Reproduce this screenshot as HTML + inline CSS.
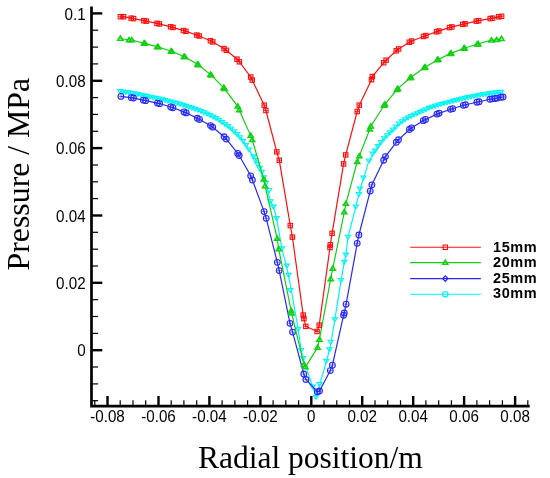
<!DOCTYPE html>
<html><head><meta charset="utf-8"><style>
html,body{margin:0;padding:0;background:#fff;}
svg{display:block;}
.tk{font-family:"Liberation Sans",Arial,sans-serif;font-size:16px;fill:#000;}
.ti{font-family:"Liberation Serif","Times New Roman",serif;font-size:31px;fill:#000;}
.lg{font-family:"Liberation Sans",Arial,sans-serif;font-size:14.5px;font-weight:bold;fill:#000;letter-spacing:0.6px;}
</style></head><body>
<svg width="550" height="478" viewBox="0 0 550 478">
<rect width="550" height="478" fill="#fff"/>
<polyline points="120.0,91.3 130.0,92.8 140.0,94.8 160.0,99.0 180.0,104.0 190.0,107.5 198.0,109.9 207.0,113.8 212.0,116.3 218.0,119.4 224.6,124.0 230.0,127.8 232.1,129.6 239.5,136.8 244.0,142.3 247.5,147.3 251.5,153.6 253.5,156.6 257.3,162.1 260.5,170.1 263.4,177.4 267.5,190.0 270.4,201.5 273.5,206.8 276.6,218.3 281.9,248.6 286.5,266.4 288.6,275.9 291.3,290.0 298.2,329.0 301.1,350.2 303.1,358.4 312.7,386.9 316.0,397.1 319.8,384.2 326.6,361.1 329.5,349.5 331.3,341.4 334.8,319.6 341.1,280.3 344.3,262.1 345.9,254.8 348.0,237.0 355.8,206.7 358.9,194.2 361.5,184.5 364.6,174.9 368.0,163.7 370.9,157.9 374.9,151.0 379.5,144.1 384.1,138.4 389.9,132.6 394.5,128.3 399.1,123.6 404.0,120.0 411.0,116.2 418.0,113.0 425.0,110.0 430.0,107.6 440.0,104.4 450.0,101.9 460.0,99.3 470.0,96.9 482.0,94.7 490.0,93.3 503.0,91.8" fill="none" stroke="#00f4f4" stroke-width="1.2"/><path d="M117.47 89.58H122.53L120.00 93.48Z" fill="none" stroke="#00f4f4" stroke-width="1.1"/><path d="M120.47 90.03H125.53L123.00 93.94Z" fill="none" stroke="#00f4f4" stroke-width="1.1"/><path d="M123.47 90.48H128.53L126.00 94.39Z" fill="none" stroke="#00f4f4" stroke-width="1.1"/><path d="M126.47 90.92H131.53L129.00 94.83Z" fill="none" stroke="#00f4f4" stroke-width="1.1"/><path d="M129.47 91.48H134.53L132.00 95.39Z" fill="none" stroke="#00f4f4" stroke-width="1.1"/><path d="M132.47 92.08H137.53L135.00 95.98Z" fill="none" stroke="#00f4f4" stroke-width="1.1"/><path d="M135.47 92.67H140.53L138.00 96.58Z" fill="none" stroke="#00f4f4" stroke-width="1.1"/><path d="M138.47 93.28H143.53L141.00 97.19Z" fill="none" stroke="#00f4f4" stroke-width="1.1"/><path d="M141.47 93.92H146.53L144.00 97.83Z" fill="none" stroke="#00f4f4" stroke-width="1.1"/><path d="M144.47 94.55H149.53L147.00 98.45Z" fill="none" stroke="#00f4f4" stroke-width="1.1"/><path d="M147.47 95.18H152.53L150.00 99.09Z" fill="none" stroke="#00f4f4" stroke-width="1.1"/><path d="M150.47 95.81H155.53L153.00 99.72Z" fill="none" stroke="#00f4f4" stroke-width="1.1"/><path d="M153.47 96.44H158.53L156.00 100.34Z" fill="none" stroke="#00f4f4" stroke-width="1.1"/><path d="M156.47 97.07H161.53L159.00 100.98Z" fill="none" stroke="#00f4f4" stroke-width="1.1"/><path d="M159.47 97.78H164.53L162.00 101.69Z" fill="none" stroke="#00f4f4" stroke-width="1.1"/><path d="M162.47 98.53H167.53L165.00 102.44Z" fill="none" stroke="#00f4f4" stroke-width="1.1"/><path d="M165.47 99.28H170.53L168.00 103.19Z" fill="none" stroke="#00f4f4" stroke-width="1.1"/><path d="M168.47 100.03H173.53L171.00 103.94Z" fill="none" stroke="#00f4f4" stroke-width="1.1"/><path d="M171.47 100.78H176.53L174.00 104.69Z" fill="none" stroke="#00f4f4" stroke-width="1.1"/><path d="M174.47 101.53H179.53L177.00 105.44Z" fill="none" stroke="#00f4f4" stroke-width="1.1"/><path d="M177.47 102.28H182.53L180.00 106.19Z" fill="none" stroke="#00f4f4" stroke-width="1.1"/><path d="M180.47 103.33H185.53L183.00 107.23Z" fill="none" stroke="#00f4f4" stroke-width="1.1"/><path d="M183.47 104.38H188.53L186.00 108.28Z" fill="none" stroke="#00f4f4" stroke-width="1.1"/><path d="M186.47 105.43H191.53L189.00 109.34Z" fill="none" stroke="#00f4f4" stroke-width="1.1"/><path d="M189.47 106.38H194.53L192.00 110.28Z" fill="none" stroke="#00f4f4" stroke-width="1.1"/><path d="M192.47 107.28H197.53L195.00 111.19Z" fill="none" stroke="#00f4f4" stroke-width="1.1"/><path d="M195.47 108.18H200.53L198.00 112.09Z" fill="none" stroke="#00f4f4" stroke-width="1.1"/><path d="M198.47 109.48H203.53L201.00 113.39Z" fill="none" stroke="#00f4f4" stroke-width="1.1"/><path d="M201.47 110.78H206.53L204.00 114.69Z" fill="none" stroke="#00f4f4" stroke-width="1.1"/><path d="M204.47 112.08H209.53L207.00 115.98Z" fill="none" stroke="#00f4f4" stroke-width="1.1"/><path d="M207.47 113.58H212.53L210.00 117.48Z" fill="none" stroke="#00f4f4" stroke-width="1.1"/><path d="M210.47 115.09H215.53L213.00 119.00Z" fill="none" stroke="#00f4f4" stroke-width="1.1"/><path d="M213.47 116.64H218.53L216.00 120.55Z" fill="none" stroke="#00f4f4" stroke-width="1.1"/><path d="M216.47 118.37H221.53L219.00 122.28Z" fill="none" stroke="#00f4f4" stroke-width="1.1"/><path d="M219.47 120.46H224.53L222.00 124.37Z" fill="none" stroke="#00f4f4" stroke-width="1.1"/><path d="M222.47 122.56H227.53L225.00 126.47Z" fill="none" stroke="#00f4f4" stroke-width="1.1"/><path d="M225.47 124.67H230.53L228.00 128.58Z" fill="none" stroke="#00f4f4" stroke-width="1.1"/><path d="M228.47 126.93H233.53L231.00 130.84Z" fill="none" stroke="#00f4f4" stroke-width="1.1"/><path d="M231.47 129.72H236.53L234.00 133.63Z" fill="none" stroke="#00f4f4" stroke-width="1.1"/><path d="M234.47 132.64H239.53L237.00 136.55Z" fill="none" stroke="#00f4f4" stroke-width="1.1"/><path d="M237.47 135.69H242.53L240.00 139.60Z" fill="none" stroke="#00f4f4" stroke-width="1.1"/><path d="M240.47 139.35H245.53L243.00 143.26Z" fill="none" stroke="#00f4f4" stroke-width="1.1"/><path d="M243.47 143.43H248.53L246.00 147.34Z" fill="none" stroke="#00f4f4" stroke-width="1.1"/><path d="M246.47 147.94H251.53L249.00 151.85Z" fill="none" stroke="#00f4f4" stroke-width="1.1"/><path d="M372.47 149.12H377.53L375.00 153.03Z" fill="none" stroke="#00f4f4" stroke-width="1.1"/><path d="M375.47 144.62H380.53L378.00 148.53Z" fill="none" stroke="#00f4f4" stroke-width="1.1"/><path d="M378.47 140.52H383.53L381.00 144.43Z" fill="none" stroke="#00f4f4" stroke-width="1.1"/><path d="M381.47 136.80H386.53L384.00 140.71Z" fill="none" stroke="#00f4f4" stroke-width="1.1"/><path d="M384.47 133.78H389.53L387.00 137.69Z" fill="none" stroke="#00f4f4" stroke-width="1.1"/><path d="M387.47 130.78H392.53L390.00 134.69Z" fill="none" stroke="#00f4f4" stroke-width="1.1"/><path d="M390.47 127.98H395.53L393.00 131.89Z" fill="none" stroke="#00f4f4" stroke-width="1.1"/><path d="M393.47 125.04H398.53L396.00 128.95Z" fill="none" stroke="#00f4f4" stroke-width="1.1"/><path d="M396.47 121.98H401.53L399.00 125.89Z" fill="none" stroke="#00f4f4" stroke-width="1.1"/><path d="M399.47 119.74H404.53L402.00 123.65Z" fill="none" stroke="#00f4f4" stroke-width="1.1"/><path d="M402.47 117.73H407.53L405.00 121.64Z" fill="none" stroke="#00f4f4" stroke-width="1.1"/><path d="M405.47 116.10H410.53L408.00 120.01Z" fill="none" stroke="#00f4f4" stroke-width="1.1"/><path d="M408.47 114.48H413.53L411.00 118.39Z" fill="none" stroke="#00f4f4" stroke-width="1.1"/><path d="M411.47 113.10H416.53L414.00 117.01Z" fill="none" stroke="#00f4f4" stroke-width="1.1"/><path d="M414.47 111.73H419.53L417.00 115.64Z" fill="none" stroke="#00f4f4" stroke-width="1.1"/><path d="M417.47 110.42H422.53L420.00 114.33Z" fill="none" stroke="#00f4f4" stroke-width="1.1"/><path d="M420.47 109.13H425.53L423.00 113.04Z" fill="none" stroke="#00f4f4" stroke-width="1.1"/><path d="M423.47 107.80H428.53L426.00 111.70Z" fill="none" stroke="#00f4f4" stroke-width="1.1"/><path d="M426.47 106.36H431.53L429.00 110.27Z" fill="none" stroke="#00f4f4" stroke-width="1.1"/><path d="M429.47 105.23H434.53L432.00 109.14Z" fill="none" stroke="#00f4f4" stroke-width="1.1"/><path d="M432.47 104.28H437.53L435.00 108.19Z" fill="none" stroke="#00f4f4" stroke-width="1.1"/><path d="M435.47 103.32H440.53L438.00 107.23Z" fill="none" stroke="#00f4f4" stroke-width="1.1"/><path d="M438.47 102.43H443.53L441.00 106.34Z" fill="none" stroke="#00f4f4" stroke-width="1.1"/><path d="M441.47 101.68H446.53L444.00 105.59Z" fill="none" stroke="#00f4f4" stroke-width="1.1"/><path d="M444.47 100.93H449.53L447.00 104.84Z" fill="none" stroke="#00f4f4" stroke-width="1.1"/><path d="M447.47 100.18H452.53L450.00 104.09Z" fill="none" stroke="#00f4f4" stroke-width="1.1"/><path d="M450.47 99.40H455.53L453.00 103.31Z" fill="none" stroke="#00f4f4" stroke-width="1.1"/><path d="M453.47 98.62H458.53L456.00 102.53Z" fill="none" stroke="#00f4f4" stroke-width="1.1"/><path d="M456.47 97.84H461.53L459.00 101.75Z" fill="none" stroke="#00f4f4" stroke-width="1.1"/><path d="M459.47 97.09H464.53L462.00 101.00Z" fill="none" stroke="#00f4f4" stroke-width="1.1"/><path d="M462.47 96.38H467.53L465.00 100.28Z" fill="none" stroke="#00f4f4" stroke-width="1.1"/><path d="M465.47 95.66H470.53L468.00 99.57Z" fill="none" stroke="#00f4f4" stroke-width="1.1"/><path d="M468.47 94.99H473.53L471.00 98.90Z" fill="none" stroke="#00f4f4" stroke-width="1.1"/><path d="M471.47 94.44H476.53L474.00 98.35Z" fill="none" stroke="#00f4f4" stroke-width="1.1"/><path d="M474.47 93.89H479.53L477.00 97.80Z" fill="none" stroke="#00f4f4" stroke-width="1.1"/><path d="M477.47 93.34H482.53L480.00 97.25Z" fill="none" stroke="#00f4f4" stroke-width="1.1"/><path d="M480.47 92.80H485.53L483.00 96.71Z" fill="none" stroke="#00f4f4" stroke-width="1.1"/><path d="M483.47 92.28H488.53L486.00 96.19Z" fill="none" stroke="#00f4f4" stroke-width="1.1"/><path d="M486.47 91.75H491.53L489.00 95.66Z" fill="none" stroke="#00f4f4" stroke-width="1.1"/><path d="M489.47 91.34H494.53L492.00 95.25Z" fill="none" stroke="#00f4f4" stroke-width="1.1"/><path d="M492.47 91.00H497.53L495.00 94.91Z" fill="none" stroke="#00f4f4" stroke-width="1.1"/><path d="M495.47 90.65H500.53L498.00 94.56Z" fill="none" stroke="#00f4f4" stroke-width="1.1"/><path d="M498.47 90.31H503.53L501.00 94.22Z" fill="none" stroke="#00f4f4" stroke-width="1.1"/><path d="M250.97 154.88H256.03L253.50 158.78Z" fill="none" stroke="#00f4f4" stroke-width="1.1"/><path d="M252.97 158.47H258.03L255.50 162.38Z" fill="none" stroke="#00f4f4" stroke-width="1.1"/><path d="M254.97 162.47H260.03L257.50 166.38Z" fill="none" stroke="#00f4f4" stroke-width="1.1"/><path d="M257.07 166.28H262.13L259.60 170.19Z" fill="none" stroke="#00f4f4" stroke-width="1.1"/><path d="M259.27 170.28H264.33L261.80 174.19Z" fill="none" stroke="#00f4f4" stroke-width="1.1"/><path d="M261.27 175.78H266.33L263.80 179.69Z" fill="none" stroke="#00f4f4" stroke-width="1.1"/><path d="M263.47 181.28H268.53L266.00 185.19Z" fill="none" stroke="#00f4f4" stroke-width="1.1"/><path d="M266.67 188.47H271.73L269.20 192.38Z" fill="none" stroke="#00f4f4" stroke-width="1.1"/><path d="M267.87 199.78H272.93L270.40 203.69Z" fill="none" stroke="#00f4f4" stroke-width="1.1"/><path d="M270.97 205.08H276.03L273.50 208.99Z" fill="none" stroke="#00f4f4" stroke-width="1.1"/><path d="M274.07 216.58H279.13L276.60 220.49Z" fill="none" stroke="#00f4f4" stroke-width="1.1"/><path d="M279.37 246.88H284.43L281.90 250.78Z" fill="none" stroke="#00f4f4" stroke-width="1.1"/><path d="M284.37 264.17H289.43L286.90 268.08Z" fill="none" stroke="#00f4f4" stroke-width="1.1"/><path d="M286.07 273.38H291.13L288.60 277.29Z" fill="none" stroke="#00f4f4" stroke-width="1.1"/><path d="M287.77 288.47H292.83L290.30 292.38Z" fill="none" stroke="#00f4f4" stroke-width="1.1"/><path d="M295.67 327.27H300.73L298.20 331.19Z" fill="none" stroke="#00f4f4" stroke-width="1.1"/><path d="M298.57 348.47H303.63L301.10 352.38Z" fill="none" stroke="#00f4f4" stroke-width="1.1"/><path d="M300.57 356.67H305.63L303.10 360.58Z" fill="none" stroke="#00f4f4" stroke-width="1.1"/><path d="M310.17 385.17H315.23L312.70 389.08Z" fill="none" stroke="#00f4f4" stroke-width="1.1"/><path d="M313.47 395.38H318.53L316.00 399.29Z" fill="none" stroke="#00f4f4" stroke-width="1.1"/><path d="M316.97 382.47H322.03L319.50 386.38Z" fill="none" stroke="#00f4f4" stroke-width="1.1"/><path d="M323.77 359.38H328.83L326.30 363.29Z" fill="none" stroke="#00f4f4" stroke-width="1.1"/><path d="M326.97 347.77H332.03L329.50 351.69Z" fill="none" stroke="#00f4f4" stroke-width="1.1"/><path d="M328.07 340.27H333.13L330.60 344.19Z" fill="none" stroke="#00f4f4" stroke-width="1.1"/><path d="M332.27 317.88H337.33L334.80 321.79Z" fill="none" stroke="#00f4f4" stroke-width="1.1"/><path d="M338.57 278.57H343.63L341.10 282.49Z" fill="none" stroke="#00f4f4" stroke-width="1.1"/><path d="M341.77 260.38H346.83L344.30 264.29Z" fill="none" stroke="#00f4f4" stroke-width="1.1"/><path d="M343.37 253.08H348.43L345.90 256.99Z" fill="none" stroke="#00f4f4" stroke-width="1.1"/><path d="M345.47 235.28H350.53L348.00 239.19Z" fill="none" stroke="#00f4f4" stroke-width="1.1"/><path d="M353.27 204.97H358.33L355.80 208.88Z" fill="none" stroke="#00f4f4" stroke-width="1.1"/><path d="M356.37 192.47H361.43L358.90 196.38Z" fill="none" stroke="#00f4f4" stroke-width="1.1"/><path d="M357.37 186.97H362.43L359.90 190.88Z" fill="none" stroke="#00f4f4" stroke-width="1.1"/><path d="M360.87 176.08H365.93L363.40 179.99Z" fill="none" stroke="#00f4f4" stroke-width="1.1"/><path d="M366.37 158.97H371.43L368.90 162.88Z" fill="none" stroke="#00f4f4" stroke-width="1.1"/><path d="M370.07 152.08H375.13L372.60 155.99Z" fill="none" stroke="#00f4f4" stroke-width="1.1"/><polyline points="120.9,96.4 132.4,97.8 144.5,100.4 158.5,103.3 171.8,107.3 185.1,112.4 198.4,118.8 211.6,126.2 225.2,137.7 237.7,153.4 239.2,155.5 250.7,175.8 252.4,180.0 264.1,211.6 266.2,218.3 277.3,262.3 279.2,270.6 290.0,323.3 292.6,332.1 303.8,374.0 305.9,379.5 317.4,391.7 319.5,391.0 330.3,370.6 332.4,365.2 343.6,315.2 344.3,313.0 346.1,304.2 357.2,243.3 358.9,235.0 370.2,191.1 371.9,184.8 383.7,160.2 385.4,156.6 397.4,140.8 410.5,128.5 424.4,120.0 438.0,113.6 451.6,109.0 464.4,105.0 478.0,102.0 491.0,99.0 496.0,98.4 502.0,97.0" fill="none" stroke="#2828ff" stroke-width="1.2"/><circle cx="120.90" cy="96.40" r="2.90" fill="none" stroke="#2828ff" stroke-width="1.05"/><path d="M118.00 96.40H123.80M120.90 93.50V99.30" stroke="#2828ff" stroke-width="0.55"/><circle cx="131.30" cy="97.67" r="2.90" fill="none" stroke="#2828ff" stroke-width="1.05"/><path d="M128.40 97.67H134.20M131.30 94.77V100.57" stroke="#2828ff" stroke-width="0.55"/><circle cx="133.50" cy="98.04" r="2.90" fill="none" stroke="#2828ff" stroke-width="1.05"/><path d="M130.60 98.04H136.40M133.50 95.14V100.94" stroke="#2828ff" stroke-width="0.55"/><circle cx="143.40" cy="100.16" r="2.90" fill="none" stroke="#2828ff" stroke-width="1.05"/><path d="M140.50 100.16H146.30M143.40 97.26V103.06" stroke="#2828ff" stroke-width="0.55"/><circle cx="145.60" cy="100.63" r="2.90" fill="none" stroke="#2828ff" stroke-width="1.05"/><path d="M142.70 100.63H148.50M145.60 97.73V103.53" stroke="#2828ff" stroke-width="0.55"/><circle cx="157.40" cy="103.07" r="2.90" fill="none" stroke="#2828ff" stroke-width="1.05"/><path d="M154.50 103.07H160.30M157.40 100.17V105.97" stroke="#2828ff" stroke-width="0.55"/><circle cx="159.60" cy="103.63" r="2.90" fill="none" stroke="#2828ff" stroke-width="1.05"/><path d="M156.70 103.63H162.50M159.60 100.73V106.53" stroke="#2828ff" stroke-width="0.55"/><circle cx="170.70" cy="106.97" r="2.90" fill="none" stroke="#2828ff" stroke-width="1.05"/><path d="M167.80 106.97H173.60M170.70 104.07V109.87" stroke="#2828ff" stroke-width="0.55"/><circle cx="172.90" cy="107.72" r="2.90" fill="none" stroke="#2828ff" stroke-width="1.05"/><path d="M170.00 107.72H175.80M172.90 104.82V110.62" stroke="#2828ff" stroke-width="0.55"/><circle cx="184.00" cy="111.98" r="2.90" fill="none" stroke="#2828ff" stroke-width="1.05"/><path d="M181.10 111.98H186.90M184.00 109.08V114.88" stroke="#2828ff" stroke-width="0.55"/><circle cx="186.20" cy="112.93" r="2.90" fill="none" stroke="#2828ff" stroke-width="1.05"/><path d="M183.30 112.93H189.10M186.20 110.03V115.83" stroke="#2828ff" stroke-width="0.55"/><circle cx="197.30" cy="118.27" r="2.90" fill="none" stroke="#2828ff" stroke-width="1.05"/><path d="M194.40 118.27H200.20M197.30 115.37V121.17" stroke="#2828ff" stroke-width="0.55"/><circle cx="199.50" cy="119.42" r="2.90" fill="none" stroke="#2828ff" stroke-width="1.05"/><path d="M196.60 119.42H202.40M199.50 116.52V122.32" stroke="#2828ff" stroke-width="0.55"/><circle cx="210.50" cy="125.58" r="2.90" fill="none" stroke="#2828ff" stroke-width="1.05"/><path d="M207.60 125.58H213.40M210.50 122.68V128.48" stroke="#2828ff" stroke-width="0.55"/><circle cx="212.70" cy="127.13" r="2.90" fill="none" stroke="#2828ff" stroke-width="1.05"/><path d="M209.80 127.13H215.60M212.70 124.23V130.03" stroke="#2828ff" stroke-width="0.55"/><circle cx="224.10" cy="136.77" r="2.90" fill="none" stroke="#2828ff" stroke-width="1.05"/><path d="M221.20 136.77H227.00M224.10 133.87V139.67" stroke="#2828ff" stroke-width="0.55"/><circle cx="226.30" cy="139.08" r="2.90" fill="none" stroke="#2828ff" stroke-width="1.05"/><path d="M223.40 139.08H229.20M226.30 136.18V141.98" stroke="#2828ff" stroke-width="0.55"/><circle cx="237.70" cy="153.40" r="2.90" fill="none" stroke="#2828ff" stroke-width="1.05"/><path d="M234.80 153.40H240.60M237.70 150.50V156.30" stroke="#2828ff" stroke-width="0.55"/><circle cx="239.20" cy="155.50" r="2.90" fill="none" stroke="#2828ff" stroke-width="1.05"/><path d="M236.30 155.50H242.10M239.20 152.60V158.40" stroke="#2828ff" stroke-width="0.55"/><circle cx="250.70" cy="175.80" r="2.90" fill="none" stroke="#2828ff" stroke-width="1.05"/><path d="M247.80 175.80H253.60M250.70 172.90V178.70" stroke="#2828ff" stroke-width="0.55"/><circle cx="252.40" cy="180.00" r="2.90" fill="none" stroke="#2828ff" stroke-width="1.05"/><path d="M249.50 180.00H255.30M252.40 177.10V182.90" stroke="#2828ff" stroke-width="0.55"/><circle cx="264.10" cy="211.60" r="2.90" fill="none" stroke="#2828ff" stroke-width="1.05"/><path d="M261.20 211.60H267.00M264.10 208.70V214.50" stroke="#2828ff" stroke-width="0.55"/><circle cx="266.20" cy="218.30" r="2.90" fill="none" stroke="#2828ff" stroke-width="1.05"/><path d="M263.30 218.30H269.10M266.20 215.40V221.20" stroke="#2828ff" stroke-width="0.55"/><circle cx="277.30" cy="262.30" r="2.90" fill="none" stroke="#2828ff" stroke-width="1.05"/><path d="M274.40 262.30H280.20M277.30 259.40V265.20" stroke="#2828ff" stroke-width="0.55"/><circle cx="279.20" cy="270.60" r="2.90" fill="none" stroke="#2828ff" stroke-width="1.05"/><path d="M276.30 270.60H282.10M279.20 267.70V273.50" stroke="#2828ff" stroke-width="0.55"/><circle cx="290.00" cy="323.30" r="2.90" fill="none" stroke="#2828ff" stroke-width="1.05"/><path d="M287.10 323.30H292.90M290.00 320.40V326.20" stroke="#2828ff" stroke-width="0.55"/><circle cx="292.60" cy="332.10" r="2.90" fill="none" stroke="#2828ff" stroke-width="1.05"/><path d="M289.70 332.10H295.50M292.60 329.20V335.00" stroke="#2828ff" stroke-width="0.55"/><circle cx="303.80" cy="374.00" r="2.90" fill="none" stroke="#2828ff" stroke-width="1.05"/><path d="M300.90 374.00H306.70M303.80 371.10V376.90" stroke="#2828ff" stroke-width="0.55"/><circle cx="305.90" cy="379.50" r="2.90" fill="none" stroke="#2828ff" stroke-width="1.05"/><path d="M303.00 379.50H308.80M305.90 376.60V382.40" stroke="#2828ff" stroke-width="0.55"/><circle cx="317.40" cy="391.70" r="2.90" fill="none" stroke="#2828ff" stroke-width="1.05"/><path d="M314.50 391.70H320.30M317.40 388.80V394.60" stroke="#2828ff" stroke-width="0.55"/><circle cx="319.50" cy="391.00" r="2.90" fill="none" stroke="#2828ff" stroke-width="1.05"/><path d="M316.60 391.00H322.40M319.50 388.10V393.90" stroke="#2828ff" stroke-width="0.55"/><circle cx="330.30" cy="370.60" r="2.90" fill="none" stroke="#2828ff" stroke-width="1.05"/><path d="M327.40 370.60H333.20M330.30 367.70V373.50" stroke="#2828ff" stroke-width="0.55"/><circle cx="332.40" cy="365.20" r="2.90" fill="none" stroke="#2828ff" stroke-width="1.05"/><path d="M329.50 365.20H335.30M332.40 362.30V368.10" stroke="#2828ff" stroke-width="0.55"/><circle cx="343.60" cy="315.20" r="2.90" fill="none" stroke="#2828ff" stroke-width="1.05"/><path d="M340.70 315.20H346.50M343.60 312.30V318.10" stroke="#2828ff" stroke-width="0.55"/><circle cx="344.30" cy="313.00" r="2.90" fill="none" stroke="#2828ff" stroke-width="1.05"/><path d="M341.40 313.00H347.20M344.30 310.10V315.90" stroke="#2828ff" stroke-width="0.55"/><circle cx="346.10" cy="304.20" r="2.90" fill="none" stroke="#2828ff" stroke-width="1.05"/><path d="M343.20 304.20H349.00M346.10 301.30V307.10" stroke="#2828ff" stroke-width="0.55"/><circle cx="357.20" cy="243.30" r="2.90" fill="none" stroke="#2828ff" stroke-width="1.05"/><path d="M354.30 243.30H360.10M357.20 240.40V246.20" stroke="#2828ff" stroke-width="0.55"/><circle cx="358.90" cy="235.00" r="2.90" fill="none" stroke="#2828ff" stroke-width="1.05"/><path d="M356.00 235.00H361.80M358.90 232.10V237.90" stroke="#2828ff" stroke-width="0.55"/><circle cx="370.20" cy="191.10" r="2.90" fill="none" stroke="#2828ff" stroke-width="1.05"/><path d="M367.30 191.10H373.10M370.20 188.20V194.00" stroke="#2828ff" stroke-width="0.55"/><circle cx="371.90" cy="184.80" r="2.90" fill="none" stroke="#2828ff" stroke-width="1.05"/><path d="M369.00 184.80H374.80M371.90 181.90V187.70" stroke="#2828ff" stroke-width="0.55"/><circle cx="383.70" cy="160.20" r="2.90" fill="none" stroke="#2828ff" stroke-width="1.05"/><path d="M380.80 160.20H386.60M383.70 157.30V163.10" stroke="#2828ff" stroke-width="0.55"/><circle cx="385.40" cy="156.60" r="2.90" fill="none" stroke="#2828ff" stroke-width="1.05"/><path d="M382.50 156.60H388.30M385.40 153.70V159.50" stroke="#2828ff" stroke-width="0.55"/><circle cx="396.30" cy="142.25" r="2.90" fill="none" stroke="#2828ff" stroke-width="1.05"/><path d="M393.40 142.25H399.20M396.30 139.35V145.15" stroke="#2828ff" stroke-width="0.55"/><circle cx="398.50" cy="139.77" r="2.90" fill="none" stroke="#2828ff" stroke-width="1.05"/><path d="M395.60 139.77H401.40M398.50 136.87V142.67" stroke="#2828ff" stroke-width="0.55"/><circle cx="409.40" cy="129.53" r="2.90" fill="none" stroke="#2828ff" stroke-width="1.05"/><path d="M406.50 129.53H412.30M409.40 126.63V132.43" stroke="#2828ff" stroke-width="0.55"/><circle cx="411.60" cy="127.83" r="2.90" fill="none" stroke="#2828ff" stroke-width="1.05"/><path d="M408.70 127.83H414.50M411.60 124.93V130.73" stroke="#2828ff" stroke-width="0.55"/><circle cx="423.30" cy="120.67" r="2.90" fill="none" stroke="#2828ff" stroke-width="1.05"/><path d="M420.40 120.67H426.20M423.30 117.77V123.57" stroke="#2828ff" stroke-width="0.55"/><circle cx="425.50" cy="119.48" r="2.90" fill="none" stroke="#2828ff" stroke-width="1.05"/><path d="M422.60 119.48H428.40M425.50 116.58V122.38" stroke="#2828ff" stroke-width="0.55"/><circle cx="436.90" cy="114.12" r="2.90" fill="none" stroke="#2828ff" stroke-width="1.05"/><path d="M434.00 114.12H439.80M436.90 111.22V117.02" stroke="#2828ff" stroke-width="0.55"/><circle cx="439.10" cy="113.23" r="2.90" fill="none" stroke="#2828ff" stroke-width="1.05"/><path d="M436.20 113.23H442.00M439.10 110.33V116.13" stroke="#2828ff" stroke-width="0.55"/><circle cx="450.50" cy="109.37" r="2.90" fill="none" stroke="#2828ff" stroke-width="1.05"/><path d="M447.60 109.37H453.40M450.50 106.47V112.27" stroke="#2828ff" stroke-width="0.55"/><circle cx="452.70" cy="108.66" r="2.90" fill="none" stroke="#2828ff" stroke-width="1.05"/><path d="M449.80 108.66H455.60M452.70 105.76V111.56" stroke="#2828ff" stroke-width="0.55"/><circle cx="463.30" cy="105.34" r="2.90" fill="none" stroke="#2828ff" stroke-width="1.05"/><path d="M460.40 105.34H466.20M463.30 102.44V108.24" stroke="#2828ff" stroke-width="0.55"/><circle cx="465.50" cy="104.76" r="2.90" fill="none" stroke="#2828ff" stroke-width="1.05"/><path d="M462.60 104.76H468.40M465.50 101.86V107.66" stroke="#2828ff" stroke-width="0.55"/><circle cx="476.90" cy="102.24" r="2.90" fill="none" stroke="#2828ff" stroke-width="1.05"/><path d="M474.00 102.24H479.80M476.90 99.34V105.14" stroke="#2828ff" stroke-width="0.55"/><circle cx="479.10" cy="101.75" r="2.90" fill="none" stroke="#2828ff" stroke-width="1.05"/><path d="M476.20 101.75H482.00M479.10 98.85V104.65" stroke="#2828ff" stroke-width="0.55"/><circle cx="489.90" cy="99.25" r="2.90" fill="none" stroke="#2828ff" stroke-width="1.05"/><path d="M487.00 99.25H492.80M489.90 96.35V102.15" stroke="#2828ff" stroke-width="0.55"/><circle cx="492.10" cy="98.87" r="2.90" fill="none" stroke="#2828ff" stroke-width="1.05"/><path d="M489.20 98.87H495.00M492.10 95.97V101.77" stroke="#2828ff" stroke-width="0.55"/><circle cx="494.90" cy="98.53" r="2.90" fill="none" stroke="#2828ff" stroke-width="1.05"/><path d="M492.00 98.53H497.80M494.90 95.63V101.43" stroke="#2828ff" stroke-width="0.55"/><circle cx="497.10" cy="98.14" r="2.90" fill="none" stroke="#2828ff" stroke-width="1.05"/><path d="M494.20 98.14H500.00M497.10 95.24V101.04" stroke="#2828ff" stroke-width="0.55"/><circle cx="500.90" cy="97.26" r="2.90" fill="none" stroke="#2828ff" stroke-width="1.05"/><path d="M498.00 97.26H503.80M500.90 94.36V100.16" stroke="#2828ff" stroke-width="0.55"/><circle cx="503.10" cy="97.00" r="2.90" fill="none" stroke="#2828ff" stroke-width="1.05"/><path d="M500.20 97.00H506.00M503.10 94.10V99.90" stroke="#2828ff" stroke-width="0.55"/><polyline points="120.4,38.5 129.0,40.0 131.8,40.0 144.5,43.3 157.8,46.9 171.5,51.3 184.5,56.7 198.0,64.6 210.9,74.9 224.1,88.1 237.7,106.3 239.2,110.0 250.7,135.6 252.2,139.8 263.8,179.2 265.1,185.9 277.2,238.6 278.7,249.0 291.1,310.7 291.6,313.2 304.0,364.5 305.5,367.0 317.6,347.4 319.4,339.4 330.7,278.9 332.8,268.4 344.3,212.0 345.9,203.6 357.2,161.8 359.3,156.1 369.8,129.3 370.8,126.2 384.5,104.8 397.4,89.1 410.5,77.5 424.7,67.4 437.7,59.7 450.7,53.4 464.2,48.2 477.7,44.0 491.4,40.2 496.6,39.8 501.5,38.7" fill="none" stroke="#10d010" stroke-width="1.2"/><path d="M120.40 36.05L122.97 40.26L117.83 40.26Z" fill="none" stroke="#10d010" stroke-width="1.5"/><path d="M129.00 37.55L131.57 41.76L126.43 41.76Z" fill="none" stroke="#10d010" stroke-width="1.5"/><path d="M131.80 37.55L134.37 41.76L129.23 41.76Z" fill="none" stroke="#10d010" stroke-width="1.5"/><path d="M144.05 40.73L146.62 44.95L141.48 44.95Z" fill="none" stroke="#10d010" stroke-width="1.5"/><path d="M144.95 40.97L147.52 45.19L142.38 45.19Z" fill="none" stroke="#10d010" stroke-width="1.5"/><path d="M157.35 44.33L159.92 48.54L154.78 48.54Z" fill="none" stroke="#10d010" stroke-width="1.5"/><path d="M158.25 44.59L160.82 48.81L155.68 48.81Z" fill="none" stroke="#10d010" stroke-width="1.5"/><path d="M171.05 48.71L173.62 52.92L168.48 52.92Z" fill="none" stroke="#10d010" stroke-width="1.5"/><path d="M171.95 49.04L174.52 53.25L169.38 53.25Z" fill="none" stroke="#10d010" stroke-width="1.5"/><path d="M184.05 54.06L186.62 58.28L181.48 58.28Z" fill="none" stroke="#10d010" stroke-width="1.5"/><path d="M184.95 54.51L187.52 58.73L182.38 58.73Z" fill="none" stroke="#10d010" stroke-width="1.5"/><path d="M197.55 61.89L200.12 66.10L194.98 66.10Z" fill="none" stroke="#10d010" stroke-width="1.5"/><path d="M198.45 62.51L201.02 66.72L195.88 66.72Z" fill="none" stroke="#10d010" stroke-width="1.5"/><path d="M210.45 72.09L213.02 76.30L207.88 76.30Z" fill="none" stroke="#10d010" stroke-width="1.5"/><path d="M211.35 72.90L213.92 77.11L208.78 77.11Z" fill="none" stroke="#10d010" stroke-width="1.5"/><path d="M223.65 85.20L226.22 89.41L221.08 89.41Z" fill="none" stroke="#10d010" stroke-width="1.5"/><path d="M224.55 86.25L227.12 90.47L221.98 90.47Z" fill="none" stroke="#10d010" stroke-width="1.5"/><path d="M237.70 103.85L240.27 108.06L235.13 108.06Z" fill="none" stroke="#10d010" stroke-width="1.5"/><path d="M239.20 107.55L241.77 111.76L236.63 111.76Z" fill="none" stroke="#10d010" stroke-width="1.5"/><path d="M250.70 133.15L253.27 137.36L248.13 137.36Z" fill="none" stroke="#10d010" stroke-width="1.5"/><path d="M252.20 137.35L254.77 141.56L249.63 141.56Z" fill="none" stroke="#10d010" stroke-width="1.5"/><path d="M263.80 176.75L266.37 180.96L261.23 180.96Z" fill="none" stroke="#10d010" stroke-width="1.5"/><path d="M265.10 183.45L267.67 187.66L262.53 187.66Z" fill="none" stroke="#10d010" stroke-width="1.5"/><path d="M277.20 236.15L279.77 240.36L274.63 240.36Z" fill="none" stroke="#10d010" stroke-width="1.5"/><path d="M278.70 246.55L281.27 250.76L276.13 250.76Z" fill="none" stroke="#10d010" stroke-width="1.5"/><path d="M291.10 308.25L293.67 312.46L288.53 312.46Z" fill="none" stroke="#10d010" stroke-width="1.5"/><path d="M291.60 310.75L294.17 314.96L289.03 314.96Z" fill="none" stroke="#10d010" stroke-width="1.5"/><path d="M304.00 362.05L306.57 366.26L301.43 366.26Z" fill="none" stroke="#10d010" stroke-width="1.5"/><path d="M305.50 364.55L308.07 368.76L302.93 368.76Z" fill="none" stroke="#10d010" stroke-width="1.5"/><path d="M317.60 344.95L320.17 349.16L315.03 349.16Z" fill="none" stroke="#10d010" stroke-width="1.5"/><path d="M319.40 336.95L321.97 341.16L316.83 341.16Z" fill="none" stroke="#10d010" stroke-width="1.5"/><path d="M330.70 276.45L333.27 280.66L328.13 280.66Z" fill="none" stroke="#10d010" stroke-width="1.5"/><path d="M332.80 265.95L335.37 270.16L330.23 270.16Z" fill="none" stroke="#10d010" stroke-width="1.5"/><path d="M344.30 209.55L346.87 213.76L341.73 213.76Z" fill="none" stroke="#10d010" stroke-width="1.5"/><path d="M345.90 201.15L348.47 205.36L343.33 205.36Z" fill="none" stroke="#10d010" stroke-width="1.5"/><path d="M357.20 159.35L359.77 163.56L354.63 163.56Z" fill="none" stroke="#10d010" stroke-width="1.5"/><path d="M359.30 153.65L361.87 157.86L356.73 157.86Z" fill="none" stroke="#10d010" stroke-width="1.5"/><path d="M369.80 126.85L372.37 131.06L367.23 131.06Z" fill="none" stroke="#10d010" stroke-width="1.5"/><path d="M370.80 123.75L373.37 127.96L368.23 127.96Z" fill="none" stroke="#10d010" stroke-width="1.5"/><path d="M384.05 103.05L386.62 107.27L381.48 107.27Z" fill="none" stroke="#10d010" stroke-width="1.5"/><path d="M384.95 101.80L387.52 106.02L382.38 106.02Z" fill="none" stroke="#10d010" stroke-width="1.5"/><path d="M396.95 87.20L399.52 91.41L394.38 91.41Z" fill="none" stroke="#10d010" stroke-width="1.5"/><path d="M397.85 86.25L400.42 90.47L395.28 90.47Z" fill="none" stroke="#10d010" stroke-width="1.5"/><path d="M410.05 75.45L412.62 79.66L407.48 79.66Z" fill="none" stroke="#10d010" stroke-width="1.5"/><path d="M410.95 74.73L413.52 78.94L408.38 78.94Z" fill="none" stroke="#10d010" stroke-width="1.5"/><path d="M424.25 65.27L426.82 69.48L421.68 69.48Z" fill="none" stroke="#10d010" stroke-width="1.5"/><path d="M425.15 64.68L427.72 68.90L422.58 68.90Z" fill="none" stroke="#10d010" stroke-width="1.5"/><path d="M437.25 57.52L439.82 61.73L434.68 61.73Z" fill="none" stroke="#10d010" stroke-width="1.5"/><path d="M438.15 57.03L440.72 61.25L435.58 61.25Z" fill="none" stroke="#10d010" stroke-width="1.5"/><path d="M450.25 51.17L452.82 55.38L447.68 55.38Z" fill="none" stroke="#10d010" stroke-width="1.5"/><path d="M451.15 50.78L453.72 54.99L448.58 54.99Z" fill="none" stroke="#10d010" stroke-width="1.5"/><path d="M463.75 45.92L466.32 50.14L461.18 50.14Z" fill="none" stroke="#10d010" stroke-width="1.5"/><path d="M464.65 45.61L467.22 49.82L462.08 49.82Z" fill="none" stroke="#10d010" stroke-width="1.5"/><path d="M477.25 41.69L479.82 45.90L474.68 45.90Z" fill="none" stroke="#10d010" stroke-width="1.5"/><path d="M478.15 41.43L480.72 45.64L475.58 45.64Z" fill="none" stroke="#10d010" stroke-width="1.5"/><path d="M491.40 37.75L493.97 41.96L488.83 41.96Z" fill="none" stroke="#10d010" stroke-width="1.5"/><path d="M496.60 37.35L499.17 41.56L494.03 41.56Z" fill="none" stroke="#10d010" stroke-width="1.5"/><path d="M501.50 36.25L504.07 40.46L498.93 40.46Z" fill="none" stroke="#10d010" stroke-width="1.5"/><polyline points="120.4,16.7 123.6,16.7 132.4,18.4 145.1,20.9 158.2,23.6 171.8,27.1 184.7,30.9 198.0,35.5 211.6,41.2 225.2,49.3 238.2,60.2 250.7,77.0 252.2,80.1 264.2,105.2 265.9,110.5 276.8,151.9 279.3,160.3 290.3,225.6 292.4,237.1 303.2,315.1 303.9,318.6 305.8,326.4 317.1,331.5 319.2,325.2 330.0,247.5 330.3,244.8 332.1,233.3 343.6,163.9 345.7,154.9 357.2,111.5 359.3,105.2 371.5,79.7 372.3,76.5 384.9,61.3 397.4,49.7 410.5,41.5 424.7,36.0 437.7,31.4 450.7,27.2 463.9,24.1 477.5,20.9 491.4,18.4 498.7,16.8 501.6,16.3" fill="none" stroke="#ff1010" stroke-width="1.2"/><rect x="118.20" y="14.50" width="4.40" height="4.40" fill="none" stroke="#ff1010" stroke-width="1.1"/><path d="M118.20 16.70H122.60M120.40 14.50V18.90" stroke="#ff1010" stroke-width="0.8"/><rect x="121.40" y="14.50" width="4.40" height="4.40" fill="none" stroke="#ff1010" stroke-width="1.1"/><path d="M121.40 16.70H125.80M123.60 14.50V18.90" stroke="#ff1010" stroke-width="0.8"/><rect x="129.00" y="15.97" width="4.40" height="4.40" fill="none" stroke="#ff1010" stroke-width="1.1"/><path d="M129.00 18.17H133.40M131.20 15.97V20.37" stroke="#ff1010" stroke-width="0.8"/><rect x="131.40" y="16.44" width="4.40" height="4.40" fill="none" stroke="#ff1010" stroke-width="1.1"/><path d="M131.40 18.64H135.80M133.60 16.44V20.84" stroke="#ff1010" stroke-width="0.8"/><rect x="141.70" y="18.46" width="4.40" height="4.40" fill="none" stroke="#ff1010" stroke-width="1.1"/><path d="M141.70 20.66H146.10M143.90 18.46V22.86" stroke="#ff1010" stroke-width="0.8"/><rect x="144.10" y="18.95" width="4.40" height="4.40" fill="none" stroke="#ff1010" stroke-width="1.1"/><path d="M144.10 21.15H148.50M146.30 18.95V23.35" stroke="#ff1010" stroke-width="0.8"/><rect x="154.80" y="21.15" width="4.40" height="4.40" fill="none" stroke="#ff1010" stroke-width="1.1"/><path d="M154.80 23.35H159.20M157.00 21.15V25.55" stroke="#ff1010" stroke-width="0.8"/><rect x="157.20" y="21.71" width="4.40" height="4.40" fill="none" stroke="#ff1010" stroke-width="1.1"/><path d="M157.20 23.91H161.60M159.40 21.71V26.11" stroke="#ff1010" stroke-width="0.8"/><rect x="168.40" y="24.59" width="4.40" height="4.40" fill="none" stroke="#ff1010" stroke-width="1.1"/><path d="M168.40 26.79H172.80M170.60 24.59V28.99" stroke="#ff1010" stroke-width="0.8"/><rect x="170.80" y="25.25" width="4.40" height="4.40" fill="none" stroke="#ff1010" stroke-width="1.1"/><path d="M170.80 27.45H175.20M173.00 25.25V29.65" stroke="#ff1010" stroke-width="0.8"/><rect x="181.30" y="28.35" width="4.40" height="4.40" fill="none" stroke="#ff1010" stroke-width="1.1"/><path d="M181.30 30.55H185.70M183.50 28.35V32.75" stroke="#ff1010" stroke-width="0.8"/><rect x="183.70" y="29.12" width="4.40" height="4.40" fill="none" stroke="#ff1010" stroke-width="1.1"/><path d="M183.70 31.32H188.10M185.90 29.12V33.52" stroke="#ff1010" stroke-width="0.8"/><rect x="194.60" y="32.88" width="4.40" height="4.40" fill="none" stroke="#ff1010" stroke-width="1.1"/><path d="M194.60 35.08H199.00M196.80 32.88V37.28" stroke="#ff1010" stroke-width="0.8"/><rect x="197.00" y="33.80" width="4.40" height="4.40" fill="none" stroke="#ff1010" stroke-width="1.1"/><path d="M197.00 36.00H201.40M199.20 33.80V38.20" stroke="#ff1010" stroke-width="0.8"/><rect x="208.20" y="38.50" width="4.40" height="4.40" fill="none" stroke="#ff1010" stroke-width="1.1"/><path d="M208.20 40.70H212.60M210.40 38.50V42.90" stroke="#ff1010" stroke-width="0.8"/><rect x="210.60" y="39.71" width="4.40" height="4.40" fill="none" stroke="#ff1010" stroke-width="1.1"/><path d="M210.60 41.91H215.00M212.80 39.71V44.11" stroke="#ff1010" stroke-width="0.8"/><rect x="221.80" y="46.39" width="4.40" height="4.40" fill="none" stroke="#ff1010" stroke-width="1.1"/><path d="M221.80 48.59H226.20M224.00 46.39V50.79" stroke="#ff1010" stroke-width="0.8"/><rect x="224.20" y="48.11" width="4.40" height="4.40" fill="none" stroke="#ff1010" stroke-width="1.1"/><path d="M224.20 50.31H228.60M226.40 48.11V52.51" stroke="#ff1010" stroke-width="0.8"/><rect x="234.80" y="56.99" width="4.40" height="4.40" fill="none" stroke="#ff1010" stroke-width="1.1"/><path d="M234.80 59.19H239.20M237.00 56.99V61.39" stroke="#ff1010" stroke-width="0.8"/><rect x="237.20" y="59.61" width="4.40" height="4.40" fill="none" stroke="#ff1010" stroke-width="1.1"/><path d="M237.20 61.81H241.60M239.40 59.61V64.01" stroke="#ff1010" stroke-width="0.8"/><rect x="248.50" y="74.80" width="4.40" height="4.40" fill="none" stroke="#ff1010" stroke-width="1.1"/><path d="M248.50 77.00H252.90M250.70 74.80V79.20" stroke="#ff1010" stroke-width="0.8"/><rect x="250.00" y="77.90" width="4.40" height="4.40" fill="none" stroke="#ff1010" stroke-width="1.1"/><path d="M250.00 80.10H254.40M252.20 77.90V82.30" stroke="#ff1010" stroke-width="0.8"/><rect x="262.00" y="103.00" width="4.40" height="4.40" fill="none" stroke="#ff1010" stroke-width="1.1"/><path d="M262.00 105.20H266.40M264.20 103.00V107.40" stroke="#ff1010" stroke-width="0.8"/><rect x="263.70" y="108.30" width="4.40" height="4.40" fill="none" stroke="#ff1010" stroke-width="1.1"/><path d="M263.70 110.50H268.10M265.90 108.30V112.70" stroke="#ff1010" stroke-width="0.8"/><rect x="274.60" y="149.70" width="4.40" height="4.40" fill="none" stroke="#ff1010" stroke-width="1.1"/><path d="M274.60 151.90H279.00M276.80 149.70V154.10" stroke="#ff1010" stroke-width="0.8"/><rect x="277.10" y="158.10" width="4.40" height="4.40" fill="none" stroke="#ff1010" stroke-width="1.1"/><path d="M277.10 160.30H281.50M279.30 158.10V162.50" stroke="#ff1010" stroke-width="0.8"/><rect x="288.10" y="223.40" width="4.40" height="4.40" fill="none" stroke="#ff1010" stroke-width="1.1"/><path d="M288.10 225.60H292.50M290.30 223.40V227.80" stroke="#ff1010" stroke-width="0.8"/><rect x="290.20" y="234.90" width="4.40" height="4.40" fill="none" stroke="#ff1010" stroke-width="1.1"/><path d="M290.20 237.10H294.60M292.40 234.90V239.30" stroke="#ff1010" stroke-width="0.8"/><rect x="301.00" y="312.90" width="4.40" height="4.40" fill="none" stroke="#ff1010" stroke-width="1.1"/><path d="M301.00 315.10H305.40M303.20 312.90V317.30" stroke="#ff1010" stroke-width="0.8"/><rect x="301.70" y="316.40" width="4.40" height="4.40" fill="none" stroke="#ff1010" stroke-width="1.1"/><path d="M301.70 318.60H306.10M303.90 316.40V320.80" stroke="#ff1010" stroke-width="0.8"/><rect x="303.60" y="324.20" width="4.40" height="4.40" fill="none" stroke="#ff1010" stroke-width="1.1"/><path d="M303.60 326.40H308.00M305.80 324.20V328.60" stroke="#ff1010" stroke-width="0.8"/><rect x="314.90" y="329.30" width="4.40" height="4.40" fill="none" stroke="#ff1010" stroke-width="1.1"/><path d="M314.90 331.50H319.30M317.10 329.30V333.70" stroke="#ff1010" stroke-width="0.8"/><rect x="317.00" y="323.00" width="4.40" height="4.40" fill="none" stroke="#ff1010" stroke-width="1.1"/><path d="M317.00 325.20H321.40M319.20 323.00V327.40" stroke="#ff1010" stroke-width="0.8"/><rect x="327.80" y="245.30" width="4.40" height="4.40" fill="none" stroke="#ff1010" stroke-width="1.1"/><path d="M327.80 247.50H332.20M330.00 245.30V249.70" stroke="#ff1010" stroke-width="0.8"/><rect x="328.10" y="242.60" width="4.40" height="4.40" fill="none" stroke="#ff1010" stroke-width="1.1"/><path d="M328.10 244.80H332.50M330.30 242.60V247.00" stroke="#ff1010" stroke-width="0.8"/><rect x="329.90" y="231.10" width="4.40" height="4.40" fill="none" stroke="#ff1010" stroke-width="1.1"/><path d="M329.90 233.30H334.30M332.10 231.10V235.50" stroke="#ff1010" stroke-width="0.8"/><rect x="341.40" y="161.70" width="4.40" height="4.40" fill="none" stroke="#ff1010" stroke-width="1.1"/><path d="M341.40 163.90H345.80M343.60 161.70V166.10" stroke="#ff1010" stroke-width="0.8"/><rect x="343.50" y="152.70" width="4.40" height="4.40" fill="none" stroke="#ff1010" stroke-width="1.1"/><path d="M343.50 154.90H347.90M345.70 152.70V157.10" stroke="#ff1010" stroke-width="0.8"/><rect x="355.00" y="109.30" width="4.40" height="4.40" fill="none" stroke="#ff1010" stroke-width="1.1"/><path d="M355.00 111.50H359.40M357.20 109.30V113.70" stroke="#ff1010" stroke-width="0.8"/><rect x="357.10" y="103.00" width="4.40" height="4.40" fill="none" stroke="#ff1010" stroke-width="1.1"/><path d="M357.10 105.20H361.50M359.30 103.00V107.40" stroke="#ff1010" stroke-width="0.8"/><rect x="369.30" y="77.50" width="4.40" height="4.40" fill="none" stroke="#ff1010" stroke-width="1.1"/><path d="M369.30 79.70H373.70M371.50 77.50V81.90" stroke="#ff1010" stroke-width="0.8"/><rect x="370.10" y="74.30" width="4.40" height="4.40" fill="none" stroke="#ff1010" stroke-width="1.1"/><path d="M370.10 76.50H374.50M372.30 74.30V78.70" stroke="#ff1010" stroke-width="0.8"/><rect x="381.50" y="60.55" width="4.40" height="4.40" fill="none" stroke="#ff1010" stroke-width="1.1"/><path d="M381.50 62.75H385.90M383.70 60.55V64.95" stroke="#ff1010" stroke-width="0.8"/><rect x="383.90" y="57.99" width="4.40" height="4.40" fill="none" stroke="#ff1010" stroke-width="1.1"/><path d="M383.90 60.19H388.30M386.10 57.99V62.39" stroke="#ff1010" stroke-width="0.8"/><rect x="394.00" y="48.61" width="4.40" height="4.40" fill="none" stroke="#ff1010" stroke-width="1.1"/><path d="M394.00 50.81H398.40M396.20 48.61V53.01" stroke="#ff1010" stroke-width="0.8"/><rect x="396.40" y="46.75" width="4.40" height="4.40" fill="none" stroke="#ff1010" stroke-width="1.1"/><path d="M396.40 48.95H400.80M398.60 46.75V51.15" stroke="#ff1010" stroke-width="0.8"/><rect x="407.10" y="40.05" width="4.40" height="4.40" fill="none" stroke="#ff1010" stroke-width="1.1"/><path d="M407.10 42.25H411.50M409.30 40.05V44.45" stroke="#ff1010" stroke-width="0.8"/><rect x="409.50" y="38.84" width="4.40" height="4.40" fill="none" stroke="#ff1010" stroke-width="1.1"/><path d="M409.50 41.04H413.90M411.70 38.84V43.24" stroke="#ff1010" stroke-width="0.8"/><rect x="421.30" y="34.26" width="4.40" height="4.40" fill="none" stroke="#ff1010" stroke-width="1.1"/><path d="M421.30 36.46H425.70M423.50 34.26V38.66" stroke="#ff1010" stroke-width="0.8"/><rect x="423.70" y="33.38" width="4.40" height="4.40" fill="none" stroke="#ff1010" stroke-width="1.1"/><path d="M423.70 35.58H428.10M425.90 33.38V37.78" stroke="#ff1010" stroke-width="0.8"/><rect x="434.30" y="29.62" width="4.40" height="4.40" fill="none" stroke="#ff1010" stroke-width="1.1"/><path d="M434.30 31.82H438.70M436.50 29.62V34.02" stroke="#ff1010" stroke-width="0.8"/><rect x="436.70" y="28.81" width="4.40" height="4.40" fill="none" stroke="#ff1010" stroke-width="1.1"/><path d="M436.70 31.01H441.10M438.90 28.81V33.21" stroke="#ff1010" stroke-width="0.8"/><rect x="447.30" y="25.39" width="4.40" height="4.40" fill="none" stroke="#ff1010" stroke-width="1.1"/><path d="M447.30 27.59H451.70M449.50 25.39V29.79" stroke="#ff1010" stroke-width="0.8"/><rect x="449.70" y="24.72" width="4.40" height="4.40" fill="none" stroke="#ff1010" stroke-width="1.1"/><path d="M449.70 26.92H454.10M451.90 24.72V29.12" stroke="#ff1010" stroke-width="0.8"/><rect x="460.50" y="22.18" width="4.40" height="4.40" fill="none" stroke="#ff1010" stroke-width="1.1"/><path d="M460.50 24.38H464.90M462.70 22.18V26.58" stroke="#ff1010" stroke-width="0.8"/><rect x="462.90" y="21.62" width="4.40" height="4.40" fill="none" stroke="#ff1010" stroke-width="1.1"/><path d="M462.90 23.82H467.30M465.10 21.62V26.02" stroke="#ff1010" stroke-width="0.8"/><rect x="474.10" y="18.98" width="4.40" height="4.40" fill="none" stroke="#ff1010" stroke-width="1.1"/><path d="M474.10 21.18H478.50M476.30 18.98V23.38" stroke="#ff1010" stroke-width="0.8"/><rect x="476.50" y="18.48" width="4.40" height="4.40" fill="none" stroke="#ff1010" stroke-width="1.1"/><path d="M476.50 20.68H480.90M478.70 18.48V22.88" stroke="#ff1010" stroke-width="0.8"/><rect x="488.00" y="16.42" width="4.40" height="4.40" fill="none" stroke="#ff1010" stroke-width="1.1"/><path d="M488.00 18.62H492.40M490.20 16.42V20.82" stroke="#ff1010" stroke-width="0.8"/><rect x="490.40" y="15.94" width="4.40" height="4.40" fill="none" stroke="#ff1010" stroke-width="1.1"/><path d="M490.40 18.14H494.80M492.60 15.94V20.34" stroke="#ff1010" stroke-width="0.8"/><rect x="496.50" y="14.60" width="4.40" height="4.40" fill="none" stroke="#ff1010" stroke-width="1.1"/><path d="M496.50 16.80H500.90M498.70 14.60V19.00" stroke="#ff1010" stroke-width="0.8"/><rect x="499.40" y="14.10" width="4.40" height="4.40" fill="none" stroke="#ff1010" stroke-width="1.1"/><path d="M499.40 16.30H503.80M501.60 14.10V18.50" stroke="#ff1010" stroke-width="0.8"/>
<path d="M91.5 6.5V406.2H529.7" fill="none" stroke="#000" stroke-width="2.7"/><path d="M91.5 400.7H98.1" stroke="#000" stroke-width="1.2"/><path d="M91.5 383.9H98.1" stroke="#000" stroke-width="1.2"/><path d="M91.5 367.0H98.1" stroke="#000" stroke-width="1.2"/><path d="M91.5 350.2H102.3" stroke="#000" stroke-width="2.4"/><path d="M91.5 333.4H98.1" stroke="#000" stroke-width="1.2"/><path d="M91.5 316.5H98.1" stroke="#000" stroke-width="1.2"/><path d="M91.5 299.7H98.1" stroke="#000" stroke-width="1.2"/><path d="M91.5 282.8H102.3" stroke="#000" stroke-width="2.4"/><path d="M91.5 266.0H98.1" stroke="#000" stroke-width="1.2"/><path d="M91.5 249.2H98.1" stroke="#000" stroke-width="1.2"/><path d="M91.5 232.3H98.1" stroke="#000" stroke-width="1.2"/><path d="M91.5 215.5H102.3" stroke="#000" stroke-width="2.4"/><path d="M91.5 198.6H98.1" stroke="#000" stroke-width="1.2"/><path d="M91.5 181.8H98.1" stroke="#000" stroke-width="1.2"/><path d="M91.5 165.0H98.1" stroke="#000" stroke-width="1.2"/><path d="M91.5 148.1H102.3" stroke="#000" stroke-width="2.4"/><path d="M91.5 131.3H98.1" stroke="#000" stroke-width="1.2"/><path d="M91.5 114.4H98.1" stroke="#000" stroke-width="1.2"/><path d="M91.5 97.6H98.1" stroke="#000" stroke-width="1.2"/><path d="M91.5 80.8H102.3" stroke="#000" stroke-width="2.4"/><path d="M91.5 63.9H98.1" stroke="#000" stroke-width="1.2"/><path d="M91.5 47.1H98.1" stroke="#000" stroke-width="1.2"/><path d="M91.5 30.2H98.1" stroke="#000" stroke-width="1.2"/><path d="M91.5 13.4H102.3" stroke="#000" stroke-width="2.4"/><path d="M94.8 406.2V400.2" stroke="#000" stroke-width="1.2"/><path d="M107.5 406.2V396.0" stroke="#000" stroke-width="2.4"/><path d="M120.2 406.2V400.2" stroke="#000" stroke-width="1.2"/><path d="M133.0 406.2V400.2" stroke="#000" stroke-width="1.2"/><path d="M145.7 406.2V400.2" stroke="#000" stroke-width="1.2"/><path d="M158.5 406.2V396.0" stroke="#000" stroke-width="2.4"/><path d="M171.2 406.2V400.2" stroke="#000" stroke-width="1.2"/><path d="M183.9 406.2V400.2" stroke="#000" stroke-width="1.2"/><path d="M196.7 406.2V400.2" stroke="#000" stroke-width="1.2"/><path d="M209.4 406.2V396.0" stroke="#000" stroke-width="2.4"/><path d="M222.1 406.2V400.2" stroke="#000" stroke-width="1.2"/><path d="M234.9 406.2V400.2" stroke="#000" stroke-width="1.2"/><path d="M247.6 406.2V400.2" stroke="#000" stroke-width="1.2"/><path d="M260.4 406.2V396.0" stroke="#000" stroke-width="2.4"/><path d="M273.1 406.2V400.2" stroke="#000" stroke-width="1.2"/><path d="M285.8 406.2V400.2" stroke="#000" stroke-width="1.2"/><path d="M298.6 406.2V400.2" stroke="#000" stroke-width="1.2"/><path d="M311.3 406.2V396.0" stroke="#000" stroke-width="2.4"/><path d="M324.0 406.2V400.2" stroke="#000" stroke-width="1.2"/><path d="M336.8 406.2V400.2" stroke="#000" stroke-width="1.2"/><path d="M349.5 406.2V400.2" stroke="#000" stroke-width="1.2"/><path d="M362.2 406.2V396.0" stroke="#000" stroke-width="2.4"/><path d="M375.0 406.2V400.2" stroke="#000" stroke-width="1.2"/><path d="M387.7 406.2V400.2" stroke="#000" stroke-width="1.2"/><path d="M400.5 406.2V400.2" stroke="#000" stroke-width="1.2"/><path d="M413.2 406.2V396.0" stroke="#000" stroke-width="2.4"/><path d="M425.9 406.2V400.2" stroke="#000" stroke-width="1.2"/><path d="M438.7 406.2V400.2" stroke="#000" stroke-width="1.2"/><path d="M451.4 406.2V400.2" stroke="#000" stroke-width="1.2"/><path d="M464.1 406.2V396.0" stroke="#000" stroke-width="2.4"/><path d="M476.9 406.2V400.2" stroke="#000" stroke-width="1.2"/><path d="M489.6 406.2V400.2" stroke="#000" stroke-width="1.2"/><path d="M502.4 406.2V400.2" stroke="#000" stroke-width="1.2"/><path d="M515.1 406.2V396.0" stroke="#000" stroke-width="2.4"/><path d="M527.8 406.2V400.2" stroke="#000" stroke-width="1.2"/>
<text transform="translate(85.6,19.6) scale(0.95,1)" text-anchor="end" class="tk">0.1</text><text transform="translate(85.6,87.0) scale(0.95,1)" text-anchor="end" class="tk">0.08</text><text transform="translate(85.6,154.3) scale(0.95,1)" text-anchor="end" class="tk">0.06</text><text transform="translate(85.6,221.7) scale(0.95,1)" text-anchor="end" class="tk">0.04</text><text transform="translate(85.6,289.0) scale(0.95,1)" text-anchor="end" class="tk">0.02</text><text transform="translate(85.6,356.4) scale(0.95,1)" text-anchor="end" class="tk">0</text><text transform="translate(107.5,422.2) scale(0.95,1)" text-anchor="middle" class="tk">-0.08</text><text transform="translate(158.5,422.2) scale(0.95,1)" text-anchor="middle" class="tk">-0.06</text><text transform="translate(209.4,422.2) scale(0.95,1)" text-anchor="middle" class="tk">-0.04</text><text transform="translate(260.4,422.2) scale(0.95,1)" text-anchor="middle" class="tk">-0.02</text><text transform="translate(311.3,422.2) scale(0.95,1)" text-anchor="middle" class="tk">0</text><text transform="translate(362.2,422.2) scale(0.95,1)" text-anchor="middle" class="tk">0.02</text><text transform="translate(413.2,422.2) scale(0.95,1)" text-anchor="middle" class="tk">0.04</text><text transform="translate(464.1,422.2) scale(0.95,1)" text-anchor="middle" class="tk">0.06</text><text transform="translate(515.1,422.2) scale(0.95,1)" text-anchor="middle" class="tk">0.08</text><text x="198.0" y="468.4" class="ti" style="font-size:31.5px">Radial position/m</text><text transform="translate(28.8,270.4) rotate(-90)" class="ti" style="font-size:31.8px">Pressure / MPa</text>
<path d="M410.2 247.3H480.8" stroke="#ff1010" stroke-width="1.1"/><rect x="443.1" y="245.10000000000002" width="4.4" height="4.4" fill="none" stroke="#ff1010" stroke-width="1.1"/><text x="493" y="251.5" class="lg">15mm</text><path d="M410.2 262.6H480.8" stroke="#10d010" stroke-width="1.1"/><path d="M445.3 260.0L447.8 264.3H442.8Z" fill="none" stroke="#10d010" stroke-width="1.4"/><text x="493" y="266.8" class="lg">20mm</text><path d="M410.2 278.6H480.8" stroke="#2828ff" stroke-width="1.1"/><path d="M445.3 275.90000000000003L447.90000000000003 278.6L445.3 281.3L442.7 278.6Z" fill="none" stroke="#2828ff" stroke-width="1.3"/><text x="493" y="282.8" class="lg">25mm</text><path d="M410.2 294.2H480.8" stroke="#00f4f4" stroke-width="1.1"/><circle cx="445.3" cy="294.2" r="2.7" fill="none" stroke="#00f4f4" stroke-width="1.2"/><text x="493" y="298.4" class="lg">30mm</text>
</svg>
</body></html>
